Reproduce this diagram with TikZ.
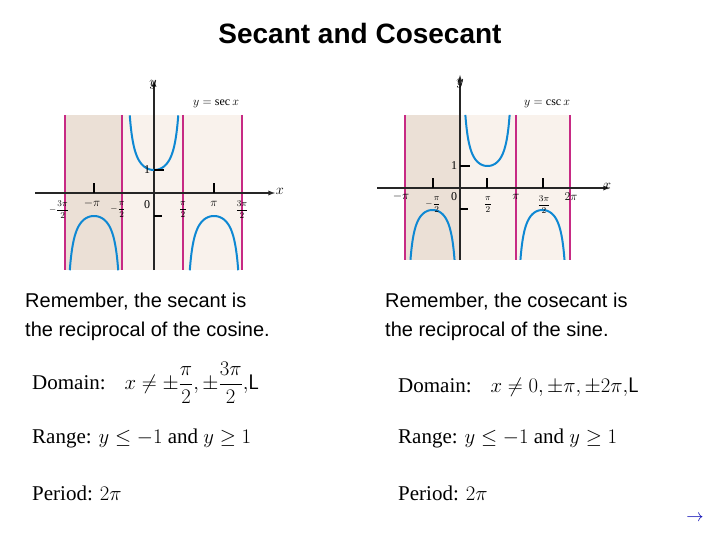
\documentclass[tikz,border=0pt]{standalone}
\usepackage{amsmath}
\usepackage{fontspec}
\setmainfont{Liberation Serif}
\newfontfamily\arial{Liberation Sans}
\begin{document}
\begin{tikzpicture}[x=1pt,y=-1pt,
  asym/.style={draw=magenta!80!black,line width=1.2pt},
  crv/.style={draw=cyan!70!blue,line width=2pt},
  ax/.style={draw=black!85,line width=1.3pt,-latex},
  lbl/.style={font=\fontsize{12}{12}\selectfont,inner sep=0pt},
  fr/.style={font=\fontsize{9}{9}\selectfont,inner sep=0pt},
  body/.style={font=\arial\fontsize{20}{29}\selectfont,anchor=west,align=left,inner sep=0pt},
  mth/.style={font=\fontsize{21}{24}\selectfont,anchor=west,inner sep=0pt}]
\useasboundingbox (0,0) rectangle (720,540);
\node[font=\arial\bfseries\fontsize{28}{30}\selectfont] (title) at (360,33) {Secant and Cosecant};
% sec graph
\fill[black!20!brown!20] (65,115) rectangle (122,270);
\fill[brown!10] (122,115) rectangle (242,270);
\foreach \a in {65,122,183,242} \draw[asym] (\a,115) -- (\a,270);
\coordinate (sxl) at (35,193); \coordinate (sxr) at (275,193);
\coordinate (syb) at (154,270); \coordinate (syt) at (154,80);
\draw[ax] (sxl) -- (sxr);
\draw[ax] (syb) -- (syt);
\begin{scope}
\clip (35,115) rectangle (275,270);
\draw[crv] plot[domain=-1.27:1.27,samples=60,smooth] ({154+19.1*\x},{193-23/cos(\x r)});
\draw[crv] plot[domain=-4.41:-1.873,samples=60,smooth] ({154+19.1*\x},{193-23/cos(\x r)});
\draw[crv] plot[domain=1.873:4.41,samples=60,smooth] ({154+19.1*\x},{193-23/cos(\x r)});
\end{scope}
\draw[line width=1.2pt] (94,193) -- (94,183) (214,193) -- (214,183) (154,170) -- (164,170) (154,216) -- (162,216);
\node[lbl] (s1) at (147,170) {1};
\node[lbl] (s0) at (147,205) {0};
\node[fr] (sa) at (59,210) {$-\dfrac{3\pi}{2}$};
\node[lbl] (sb) at (92,204) {$-\pi$};
\node[fr] (sc) at (118,210) {$-\dfrac{\pi}{2}$};
\node[fr] (sd) at (183,210) {$\dfrac{\pi}{2}$};
\node[lbl] (se) at (214,204) {$\pi$};
\node[fr] (sf) at (242,210) {$\dfrac{3\pi}{2}$};
\node[lbl,font=\fontsize{14}{14}\selectfont] (sy) at (153,85) {$y$};
\node[lbl,font=\fontsize{14}{14}\selectfont] (sx) at (280,191) {$x$};
\node[lbl,font=\fontsize{12}{12}\selectfont] (seq) at (216,104) {$y=\sec x$};
% csc graph
\fill[black!20!brown!20] (405,115) rectangle (460,260);
\fill[brown!10] (460,115) rectangle (570,260);
\foreach \a in {405,516,570} \draw[asym] (\a,115) -- (\a,260);
\coordinate (cxl) at (377,188); \coordinate (cxr) at (610,188);
\coordinate (cyb) at (460,260); \coordinate (cyt) at (460,75);
\draw[ax] (cxl) -- (cxr);
\draw[ax] (cyb) -- (cyt);
\begin{scope}
\clip (377,115) rectangle (610,260);
\draw[crv] plot[domain=0.306:2.836,samples=60,smooth] ({460+17.5*\x},{188-22/sin(\x r)});
\draw[crv] plot[domain=-2.83:-0.311,samples=60,smooth] ({460+17.5*\x},{188-22/sin(\x r)});
\draw[crv] plot[domain=3.453:5.972,samples=60,smooth] ({460+17.5*\x},{188-22/sin(\x r)});
\end{scope}
\draw[line width=1.2pt] (433,188) -- (433,178) (487,188) -- (487,178) (543,188) -- (543,178) (460,166) -- (470,166) (460,209) -- (468,209);
\node[lbl] (c1) at (454,166) {1};
\node[lbl] (c0) at (454,197) {0};
\node[lbl] (ca) at (401,197) {$-\pi$};
\node[fr] (cb) at (433,205) {$-\dfrac{\pi}{2}$};
\node[fr] (cc) at (488,205) {$\dfrac{\pi}{2}$};
\node[lbl] (cd) at (516,197) {$\pi$};
\node[fr] (ce) at (544,205) {$\dfrac{3\pi}{2}$};
\node[lbl] (cf) at (571,197) {$2\pi$};
\node[lbl,font=\fontsize{14}{14}\selectfont] (cy) at (460,84) {$y$};
\node[lbl,font=\fontsize{14}{14}\selectfont] (cx) at (607,186) {$x$};
\node[lbl,font=\fontsize{12}{12}\selectfont] (ceq) at (547,104) {$y=\csc x$};
% texts
\node[body] (t1) at (25,317) {Remember, the secant is\\the reciprocal of the cosine.};
\node[body] (t2) at (385,317) {Remember, the cosecant is\\the reciprocal of the sine.};
\node[mth] (d1) at (32,383) {Domain:\hspace{0.9em}$x\neq\pm\dfrac{\pi}{2},\pm\dfrac{3\pi}{2},$\textsf{L}};
\node[mth] (r1) at (32,438) {Range: $y\le -1$ and $y\ge 1$};
\node[mth] (p1) at (32,493) {Period: $2\pi$};
\node[mth] (d2) at (398,387) {Domain:\hspace{0.9em}$x\neq 0,\pm\pi,\pm2\pi,$\textsf{L}};
\node[mth] (r2) at (398,438) {Range: $y\le -1$ and $y\ge 1$};
\node[mth] (p2) at (398,493) {Period: $2\pi$};
\node[text=blue!70!black,font=\fontsize{16}{16}\selectfont] (arr) at (695,518) {$\rightarrow$};
\end{tikzpicture}
\end{document}
